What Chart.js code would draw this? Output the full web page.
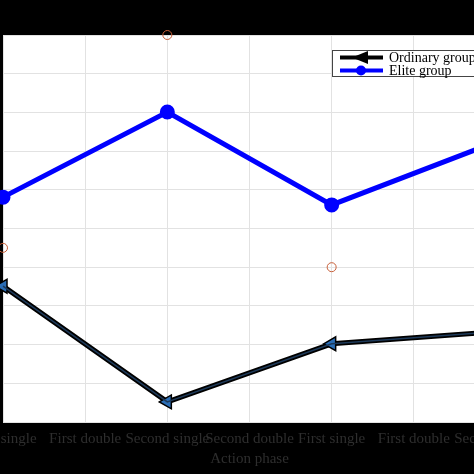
<!DOCTYPE html>
<html><head><meta charset="utf-8">
<script src="https://cdn.jsdelivr.net/npm/chart.js@4.4.1/dist/chart.umd.min.js"></script>
<style>
html,body{margin:0;padding:0;background:#000;overflow:hidden;width:474px;height:474px;}
#wrap{position:absolute;left:-7px;top:0;width:560px;height:474px;}
</style></head>
<body><div id="wrap"><canvas id="c" width="560" height="474"></canvas></div>
<script>
const categories = ['First single','First double','Second single','Second double','First single','First double','Second single'];
const ordinaryGroup = [3.51, null, 0.52, null, 2.02, null, 2.33];
const eliteGroup = [5.81, null, 8.01, null, 5.61, null, 7.24];
const reference = [4.5, null, 10.0, null, 4.0, null, null];
const yTicks = [0,1,2,3,4,5,6,7,8,9,10];

const bgPlugin = {
  id:'bg',
  beforeDraw(chart){
    const {ctx, chartArea:a} = chart;
    ctx.save();
    ctx.fillStyle='#000';
    ctx.fillRect(0,0,chart.width,chart.height);
    ctx.fillStyle='#fff';
    ctx.fillRect(a.left,a.top,a.right-a.left,a.bottom-a.top);
    ctx.restore();
  }
};
const legendPlugin = {
  id:'legendBox',
  afterDraw(chart){
    const ctx = chart.ctx;
    const ox = 7;
    ctx.save();
    ctx.translate(ox,0);
    ctx.fillStyle='#fff';
    ctx.fillRect(332,50,200,27);
    ctx.strokeStyle='#444';
    ctx.lineWidth=1;
    ctx.strokeRect(332.5,50.5,200,26);
    ctx.strokeStyle='#000'; ctx.lineWidth=4;
    ctx.beginPath(); ctx.moveTo(340,57.5); ctx.lineTo(383,57.5); ctx.stroke();
    ctx.fillStyle='#000';
    ctx.beginPath(); ctx.moveTo(352,57.5); ctx.lineTo(368,51); ctx.lineTo(368,64); ctx.closePath(); ctx.fill();
    ctx.strokeStyle='#0000ff'; ctx.lineWidth=4;
    ctx.beginPath(); ctx.moveTo(340,70.5); ctx.lineTo(383,70.5); ctx.stroke();
    ctx.fillStyle='#0000ff';
    ctx.beginPath(); ctx.arc(361,70.5,5,0,Math.PI*2); ctx.fill();
    ctx.fillStyle='#000';
    ctx.font='14px "Liberation Serif"';
    ctx.textBaseline='middle';
    ctx.fillText('Ordinary group',389,58);
    ctx.fillText('Elite group',389,71);
    ctx.restore();
  }
};

new Chart(document.getElementById('c'),{
  type:'line',
  data:{
    labels:categories,
    datasets:[
      {label:'Ordinary group', data:ordinaryGroup, spanGaps:true, borderColor:'#000', borderWidth:5,
       pointStyle:'triangle', rotation:-90, pointRadius:8, pointBackgroundColor:'#2a6db5', pointBorderColor:'#000', pointBorderWidth:1.5, order:2},
      {label:'_inner', data:ordinaryGroup, spanGaps:true, borderColor:'#1e3a5a', borderWidth:1.5, pointRadius:0, order:1.5},
      {label:'Elite group', data:eliteGroup, spanGaps:true, borderColor:'#0000ff', borderWidth:5,
       pointStyle:'circle', pointRadius:5, pointBackgroundColor:'#0000ff', pointBorderColor:'#0000ff', order:1},
      {label:'_ref', data:reference, showLine:false, pointStyle:'circle', pointRadius:4.5, pointBackgroundColor:'rgba(0,0,0,0)',
       pointBorderColor:'#c8603a', pointBorderWidth:1, clip:false, order:0}
    ]
  },
  options:{
    responsive:false, animation:false,
    layout:{padding:{left:4,right:57,top:35,bottom:0}},
    plugins:{legend:{display:false}, tooltip:{enabled:false}},
    scales:{
      x:{type:'category', offset:false,
        grid:{color:'#e2e2e2', drawTicks:false, offset:false},
        border:{display:false},
        ticks:{color:'#2e2e2e', font:{family:'"Liberation Serif"', size:15}, autoSkip:false, maxRotation:0, padding:8},
        title:{display:true, text:'Action phase', color:'#2e2e2e', font:{family:'"Liberation Serif"', size:15}, padding:{top:0,bottom:6}},
        afterFit(s){ s.paddingLeft=0; s.paddingRight=0; s.height=52; }
      },
      y:{min:0,max:10,
        afterBuildTicks(s){ s.ticks = yTicks.map(v=>({value:v})); },
        grid:{color:'#e2e2e2', drawTicks:false},
        border:{display:false},
        ticks:{display:false},
        afterFit(s){ s.width=0; }
      }
    }
  },
  plugins:[bgPlugin, legendPlugin]
});
</script></body></html>
